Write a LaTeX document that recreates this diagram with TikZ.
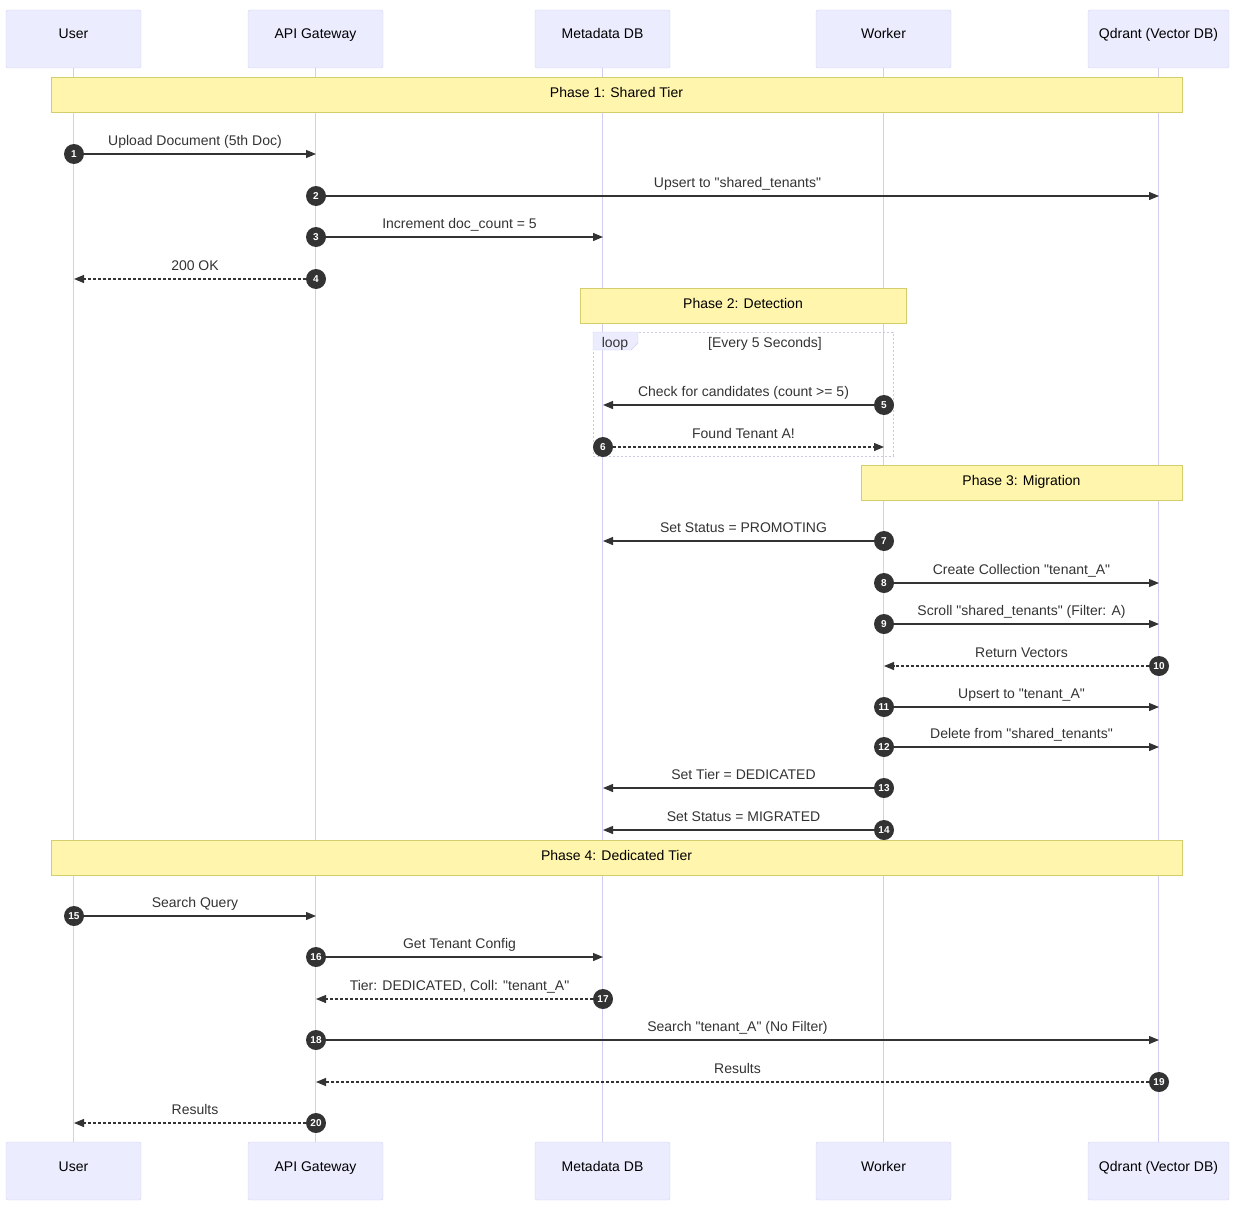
\documentclass[tikz,border=0pt]{standalone}
\usepackage{fontspec}
\setmainfont{Liberation Sans}[Ligatures=TeXOff]
\usetikzlibrary{arrows.meta}
\definecolor{actfill}{HTML}{ECECFF}
\definecolor{actline}{HTML}{D2D0F4}
\definecolor{lifeline}{HTML}{D2CEF2}
\definecolor{notefill}{HTML}{FFF5AD}
\definecolor{noteline}{HTML}{D3CD6C}
\definecolor{msgline}{HTML}{333333}
\definecolor{loopline}{HTML}{C9C9E2}
\tikzset{
  actor/.style={draw=actline, fill=actfill, rounded corners=2pt, minimum height=58pt, inner sep=0pt, text height=10pt, text depth=10pt, font=\fontsize{14}{16}\selectfont},
  life/.style={draw=lifeline, line width=1.7pt},
  note/.style={draw=noteline, fill=notefill, minimum height=35pt, inner sep=0pt, text height=10pt, text depth=5pt, font=\fontsize{14}{16}\selectfont},
  num/.style={circle, fill=msgline, text=white, minimum size=20pt, inner sep=0pt, font=\fontsize{10}{11}\selectfont\bfseries},
  msg/.style={draw=msgline, line width=1.2pt, -{Triangle[length=10pt,width=8pt]}},
  reply/.style={msg, dash pattern=on 3pt off 2pt},
  lbl/.style={midway, anchor=base, yshift=9pt, inner sep=0pt, text=msgline, font=\fontsize{14}{16}\selectfont}
}
\begin{document}
\begin{tikzpicture}[x=1pt,y=-1pt]
\useasboundingbox (0,0) rectangle (1247,1231);
% actors
\node[actor, minimum width=135pt] (userTop) at (73.5,39){User};
\node[actor, minimum width=135pt] (apiTop) at (315.5,39){API Gateway};
\node[actor, minimum width=135pt] (metaTop) at (602.5,39){Metadata DB};
\node[actor, minimum width=135pt] (workTop) at (883.5,39){Worker};
\node[actor, minimum width=141pt] (qdTop) at (1158.5,39){Qdrant (Vector DB)};
\node[actor, minimum width=135pt] (userBot) at (73.5,1171){User};
\node[actor, minimum width=135pt] (apiBot) at (315.5,1171){API Gateway};
\node[actor, minimum width=135pt] (metaBot) at (602.5,1171){Metadata DB};
\node[actor, minimum width=135pt] (workBot) at (883.5,1171){Worker};
\node[actor, minimum width=141pt] (qdBot) at (1158.5,1171){Qdrant (Vector DB)};
\draw[life] (userTop) -- (userBot);
\draw[life] (apiTop) -- (apiBot);
\draw[life] (metaTop) -- (metaBot);
\draw[life] (workTop) -- (workBot);
\draw[life] (qdTop) -- (qdBot);
% phases
\node[note, minimum width=1131pt] (phase1) at (616.5,94.5){Phase 1: Shared Tier};
\node[note, minimum width=326pt] (phase2) at (743,305.5){Phase 2: Detection};
\node[note, minimum width=321pt] (phase3) at (1021.5,482.5){Phase 3: Migration};
\node[note, minimum width=1131pt] (phase4) at (616.5,857.5){Phase 4: Dedicated Tier};
% loop
\draw[loopline, line width=0.8pt, dash pattern=on 2pt off 2pt] (593,332) rectangle (893,456);
\draw[draw=actline, fill=actfill] (593,332) -- (638,332) -- (638,343) -- (631,350) -- (593,350) -- cycle;
\node[font=\fontsize{14}{16}\selectfont, text=msgline] (loopTag) at (615,344){loop};
\node[font=\fontsize{14}{16}\selectfont, text=msgline] (loopCond) at (765,344){[Every 5 Seconds]};
% messages
\coordinate (s1) at (74,154); \coordinate (t1) at (316,154);
\draw[msg] (s1) -- (t1) node[lbl]{Upload Document (5th Doc)};
\node[num] (n1) at (s1){1};
\coordinate (s2) at (316,196); \coordinate (t2) at (1159,196);
\draw[msg] (s2) -- (t2) node[lbl]{Upsert to "shared\_tenants"};
\node[num] (n2) at (s2){2};
\coordinate (s3) at (316,237); \coordinate (t3) at (603,237);
\draw[msg] (s3) -- (t3) node[lbl]{Increment doc\_count = 5};
\node[num] (n3) at (s3){3};
\coordinate (s4) at (316,279); \coordinate (t4) at (74,279);
\draw[reply] (s4) -- (t4) node[lbl]{200 OK};
\node[num] (n4) at (s4){4};
\coordinate (s5) at (884,405); \coordinate (t5) at (603,405);
\draw[msg] (s5) -- (t5) node[lbl]{Check for candidates (count >= 5)};
\node[num] (n5) at (s5){5};
\coordinate (s6) at (603,447); \coordinate (t6) at (884,447);
\draw[reply] (s6) -- (t6) node[lbl]{Found Tenant A!};
\node[num] (n6) at (s6){6};
\coordinate (s7) at (884,541); \coordinate (t7) at (603,541);
\draw[msg] (s7) -- (t7) node[lbl]{Set Status = PROMOTING};
\node[num] (n7) at (s7){7};
\coordinate (s8) at (884,583); \coordinate (t8) at (1159,583);
\draw[msg] (s8) -- (t8) node[lbl]{Create Collection "tenant\_A"};
\node[num] (n8) at (s8){8};
\coordinate (s9) at (884,624); \coordinate (t9) at (1159,624);
\draw[msg] (s9) -- (t9) node[lbl]{Scroll "shared\_tenants" (Filter: A)};
\node[num] (n9) at (s9){9};
\coordinate (s10) at (1159,666); \coordinate (t10) at (884,666);
\draw[reply] (s10) -- (t10) node[lbl]{Return Vectors};
\node[num] (n10) at (s10){10};
\coordinate (s11) at (884,707); \coordinate (t11) at (1159,707);
\draw[msg] (s11) -- (t11) node[lbl]{Upsert to "tenant\_A"};
\node[num] (n11) at (s11){11};
\coordinate (s12) at (884,747); \coordinate (t12) at (1159,747);
\draw[msg] (s12) -- (t12) node[lbl]{Delete from "shared\_tenants"};
\node[num] (n12) at (s12){12};
\coordinate (s13) at (884,788); \coordinate (t13) at (603,788);
\draw[msg] (s13) -- (t13) node[lbl]{Set Tier = DEDICATED};
\node[num] (n13) at (s13){13};
\coordinate (s14) at (884,830); \coordinate (t14) at (603,830);
\draw[msg] (s14) -- (t14) node[lbl]{Set Status = MIGRATED};
\node[num] (n14) at (s14){14};
\coordinate (s15) at (74,916); \coordinate (t15) at (316,916);
\draw[msg] (s15) -- (t15) node[lbl]{Search Query};
\node[num] (n15) at (s15){15};
\coordinate (s16) at (316,957); \coordinate (t16) at (603,957);
\draw[msg] (s16) -- (t16) node[lbl]{Get Tenant Config};
\node[num] (n16) at (s16){16};
\coordinate (s17) at (603,999); \coordinate (t17) at (316,999);
\draw[reply] (s17) -- (t17) node[lbl]{Tier: DEDICATED, Coll: "tenant\_A"};
\node[num] (n17) at (s17){17};
\coordinate (s18) at (316,1040); \coordinate (t18) at (1159,1040);
\draw[msg] (s18) -- (t18) node[lbl]{Search "tenant\_A" (No Filter)};
\node[num] (n18) at (s18){18};
\coordinate (s19) at (1159,1082); \coordinate (t19) at (316,1082);
\draw[reply] (s19) -- (t19) node[lbl]{Results};
\node[num] (n19) at (s19){19};
\coordinate (s20) at (316,1123); \coordinate (t20) at (74,1123);
\draw[reply] (s20) -- (t20) node[lbl]{Results};
\node[num] (n20) at (s20){20};
\end{tikzpicture}
\end{document}
